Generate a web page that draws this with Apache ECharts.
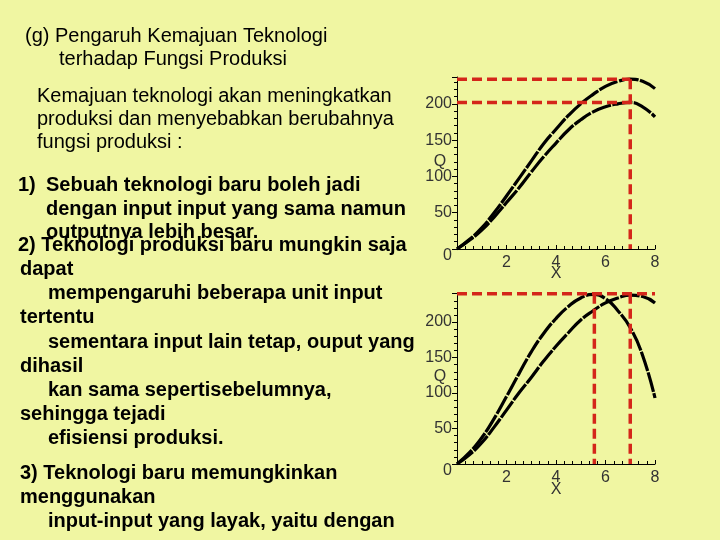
<!DOCTYPE html>
<html>
<head>
<meta charset="utf-8">
<script src="https://cdn.jsdelivr.net/npm/echarts@6/dist/echarts.min.js"></script>
<style>
  html, body { margin: 0; padding: 0; background: #F0F6A2; }
  #main { width: 720px; height: 540px; }
</style>
</head>
<body>
<div id="main"></div>
<script>
// ---- data ----
const xValues = [0, 0.5, 1, 1.5, 2, 2.5, 3, 3.5, 4, 4.5, 5, 5.5, 6, 6.5, 7, 7.5, 8];
const xTicks = [2, 4, 6, 8];
const yTicks = [0, 50, 100, 150, 200];

// top chart: same inputs, more output
const topNewTech = [0, 13, 29, 50, 73, 97, 121, 145, 165, 184, 200, 213, 224, 231, 234, 231, 221];
const topOldTech = [0, 12, 26, 44, 64, 84, 106, 127, 146, 164, 178, 189, 196, 200, 202, 196, 182];
const topRefQ = [234, 202];
const topRefX = [7];
const topYMax = 237;

// bottom chart: same output, fewer inputs
const bottomNewTech = [0, 16, 37, 64, 95, 127, 158, 184, 205, 222, 234, 239, 233, 216, 192, 153, 93];
const bottomOldTech = [0, 13, 30, 52, 76, 100, 122, 145, 166, 185, 203, 216, 227, 234, 238, 236, 227];
const bottomRefQ = [240];
const bottomRefX = [5.55, 7];
const bottomYMax = 241;

const zip = (xs, ys) => xs.map((x, i) => [x, ys[i]]);

const chart = echarts.init(document.getElementById('main'), null, { renderer: 'canvas' });

const FONT = '"Liberation Sans", Arial, sans-serif';
const RED = '#D4261A';

function xAxisCfg(gi) {
  return {
    gridIndex: gi, type: 'value', min: 0, max: 8, interval: 2,
    axisLine: { show: true, lineStyle: { color: '#000', width: 1 } },
    axisTick: { show: true, inside: true, length: 4, lineStyle: { color: '#000' } },
    minorTick: { show: true, splitNumber: 6, length: 3, lineStyle: { color: '#000' } },
    axisLabel: { showMinLabel: false, color: '#333', fontSize: 16, fontFamily: FONT, margin: 6,
      formatter: v => (xTicks.indexOf(v) >= 0 ? String(v) : '') },
    splitLine: { show: false }
  };
}
function yAxisCfg(gi, ymax) {
  return {
    gridIndex: gi, type: 'value', min: 0, max: ymax, interval: 50,
    axisLine: { show: true, lineStyle: { color: '#000', width: 1 } },
    axisTick: { show: true, length: 5, lineStyle: { color: '#000' } },
    minorTick: { show: true, splitNumber: 5, length: 3, lineStyle: { color: '#000' } },
    axisLabel: { showMaxLabel: false, color: '#333', fontSize: 16, fontFamily: FONT, margin: 5,
      formatter: v => (v === 0 ? '{z|0}' : (yTicks.indexOf(v) >= 0 ? String(v) : '')),
      rich: { z: { color: '#333', fontSize: 16, fontFamily: FONT, padding: [13, 0, 0, 0] } } },
    splitLine: { show: false }
  };
}

function curve(gi, data) {
  return {
    type: 'line', xAxisIndex: gi, yAxisIndex: gi, data: zip(xValues, data),
    smooth: 0.5, showSymbol: false, silent: true, z: 3,
    lineStyle: { color: '#000', width: 3.2, type: [20, 1.5] }
  };
}
function refLine(gi, pts) {
  return {
    type: 'line', xAxisIndex: gi, yAxisIndex: gi, data: pts,
    showSymbol: false, silent: true, z: 4,
    lineStyle: { color: RED, width: 3.5, type: [10, 5] }
  };
}

const series = [
  curve(0, topNewTech), curve(0, topOldTech),
  curve(1, bottomNewTech), curve(1, bottomOldTech)
];
topRefQ.forEach(q => series.push(refLine(0, [[0, q], [topRefX[0], q]])));
topRefX.forEach(x => series.push(refLine(0, [[x, topRefQ[0]], [x, 0]])));
bottomRefQ.forEach(q => series.push(refLine(1, [[0, q], [8, q]])));
bottomRefX.forEach(x => series.push(refLine(1, [[x, bottomRefQ[0]], [x, 0]])));

function txt(x, y, text, size, bold, color, align) {
  return {
    type: 'text', x: x, y: y, silent: true,
    style: { text: text, fill: color || '#000', font: (bold ? 'bold ' : '') + size + 'px ' + FONT,
      verticalAlign: 'middle', align: align || 'left' }
  };
}

const graphics = [
  txt(25, 36, '(g) Pengaruh Kemajuan Teknologi', 20, false),
  txt(59, 59, 'terhadap Fungsi Produksi', 20, false),
  txt(37, 96, 'Kemajuan teknologi akan meningkatkan', 20, false),
  txt(37, 119, 'produksi dan menyebabkan berubahnya', 20, false),
  txt(37, 142, 'fungsi produksi :', 20, false),
  txt(18, 185, '1)', 20, true),
  txt(46, 185, 'Sebuah teknologi baru boleh jadi', 20, true),
  txt(46, 209, 'dengan input input yang sama namun', 20, true),
  txt(46, 232, 'outputnya lebih besar.', 20, true),
  txt(18, 245, '2) Teknologi produksi baru mungkin saja', 20, true),
  txt(20, 269, 'dapat', 20, true),
  txt(48, 293, 'mempengaruhi beberapa unit input', 20, true),
  txt(20, 317, 'tertentu', 20, true),
  txt(48, 342, 'sementara input lain tetap, ouput yang', 20, true),
  txt(20, 366, 'dihasil', 20, true),
  txt(48, 390, 'kan sama sepertisebelumnya,', 20, true),
  txt(20, 414, 'sehingga tejadi', 20, true),
  txt(48, 438, 'efisiensi produksi.', 20, true),
  txt(20, 473, '3) Teknologi baru memungkinkan', 20, true),
  txt(20, 497, 'menggunakan', 20, true),
  txt(48, 521, 'input-input yang layak, yaitu dengan', 20, true),
  // axis names
  txt(440, 162, 'Q', 16, false, '#333', 'center'),
  txt(556, 274, 'X', 16, false, '#333', 'center'),
  txt(440, 377, 'Q', 16, false, '#333', 'center'),
  txt(556, 490, 'X', 16, false, '#333', 'center')
];

chart.setOption({
  backgroundColor: '#F0F6A2',
  animation: false,
  grid: [
    { left: 457, top: 77, width: 198, height: 172 },
    { left: 457, top: 293, width: 198, height: 171 }
  ],
  xAxis: [xAxisCfg(0), xAxisCfg(1)],
  yAxis: [yAxisCfg(0, topYMax), yAxisCfg(1, bottomYMax)],
  series: series,
  graphic: graphics
});
</script>
</body>
</html>
